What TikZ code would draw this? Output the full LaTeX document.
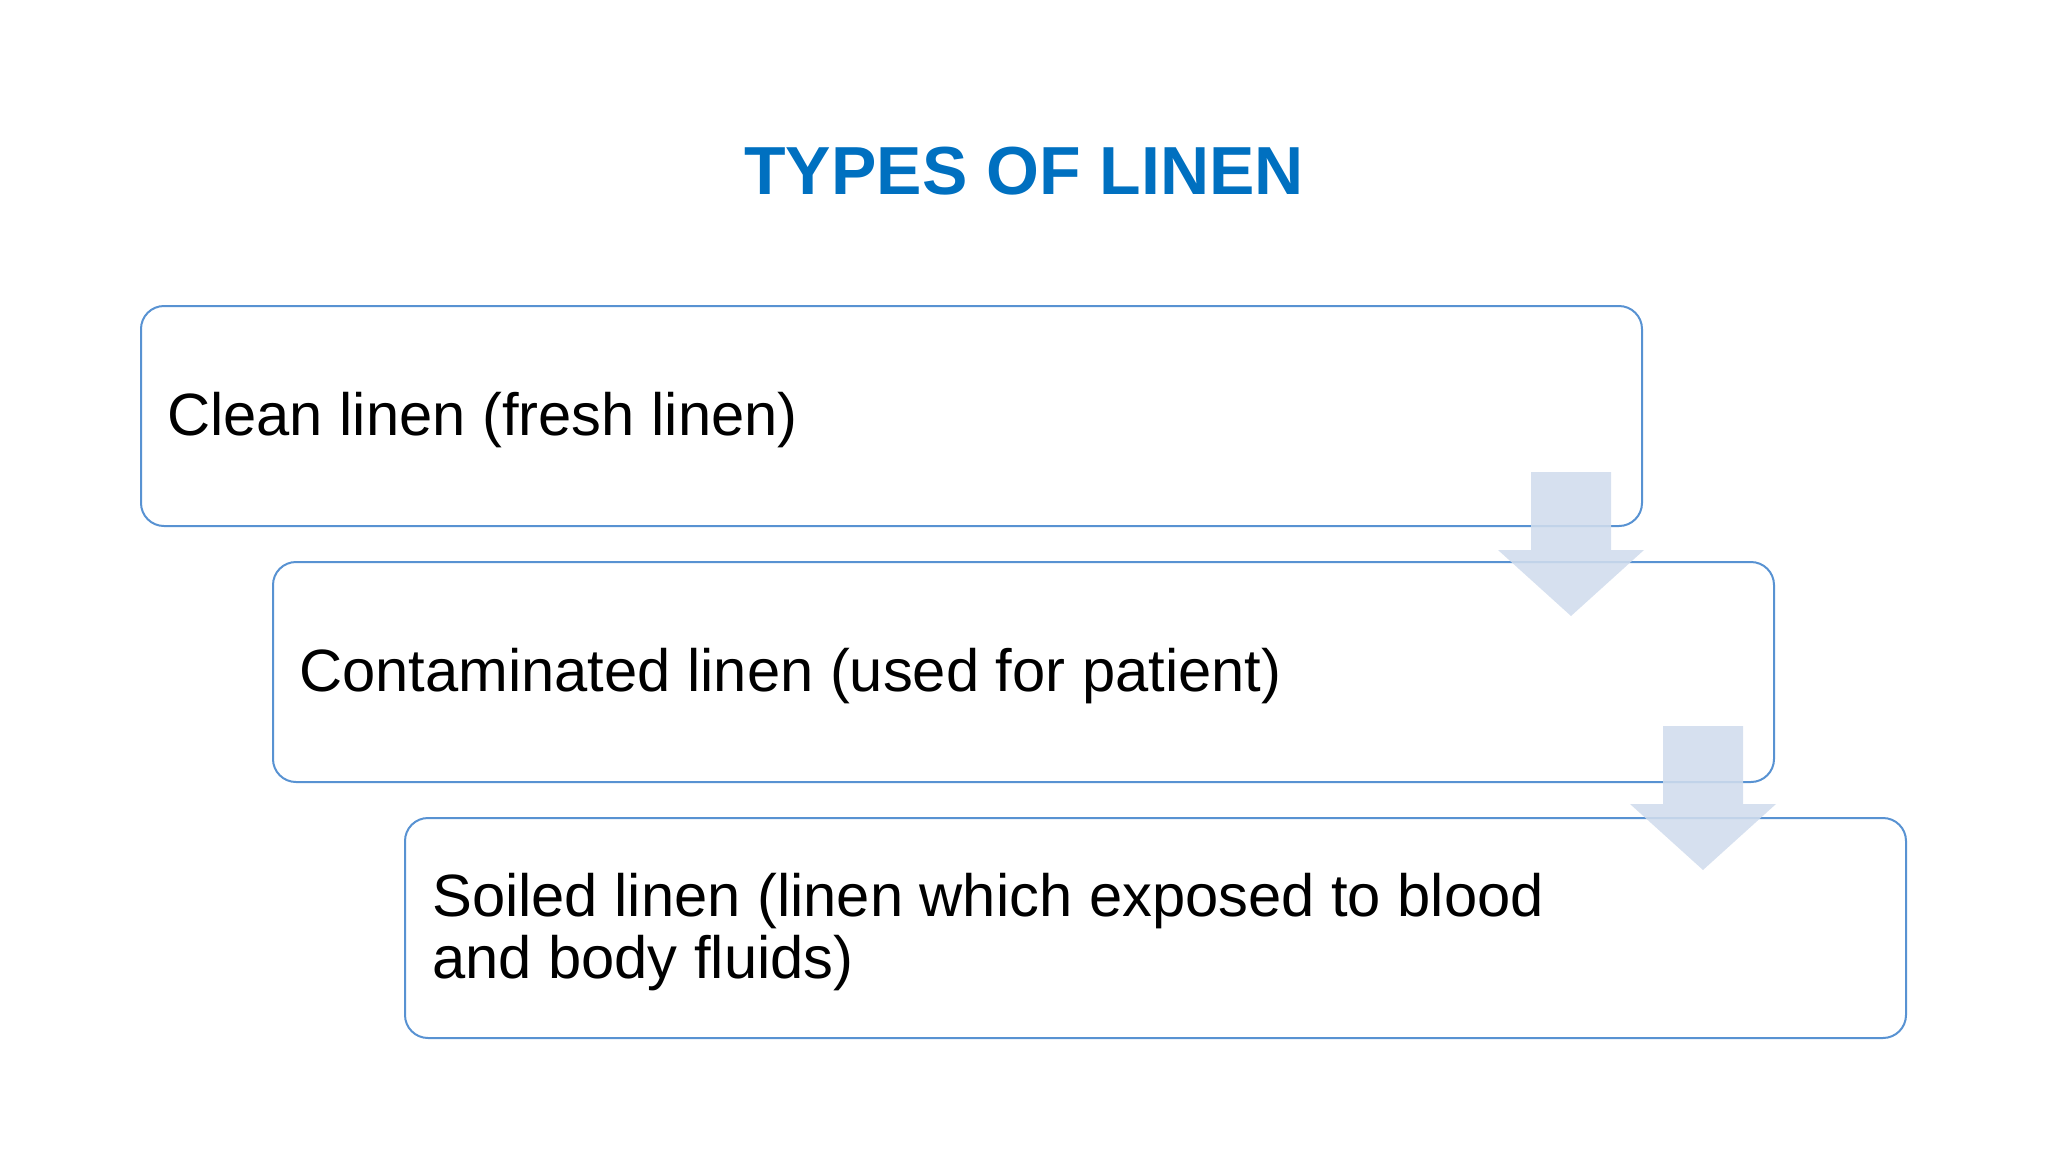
\documentclass[tikz,border=0pt]{standalone}
\usepackage{fontspec}
\setmainfont{Liberation Sans}
\definecolor{titleblue}{RGB}{0,112,192}
\definecolor{boxline}{RGB}{88,146,210}
\definecolor{arrowfill}{RGB}{208,220,237}
\begin{document}
\begin{tikzpicture}[x=1pt,y=-1pt,
  linebox/.style={draw=boxline,line width=2pt,rounded corners=23pt,minimum width=1501pt,minimum height=220pt,inner sep=0pt},
  bodytext/.style={font=\fontsize{59.7}{62}\selectfont,inner sep=0pt,anchor=base west,align=left},
  titletext/.style={font=\fontsize{68}{70}\selectfont\bfseries,text=titleblue,inner sep=0pt,anchor=base},
  downarrow/.pic={\fill[arrowfill,opacity=0.88] (0,0) -- (-73,-66) -- (-40,-66) -- (-40,-144) -- (40,-144) -- (40,-66) -- (73,-66) -- cycle;}
]
\path[use as bounding box] (0,0) rectangle (2048,1152);
\node[titletext] (title) at (1024,194) {TYPES OF LINEN};
\node[linebox] (b1) at (891.5,416) {};
\node[linebox] (b2) at (1023.5,672) {};
\node[linebox] (b3) at (1155.5,928) {};
\node[bodytext] (t1) at (167,435) {Clean linen (fresh linen)};
\node[bodytext] (t2) at (299,691) {Contaminated linen (used for patient)};
\node[bodytext] (t3) at (432,978) {Soiled linen (linen which exposed to blood\\and body fluids)};
\path (1571,616) pic {downarrow};
\path (1703,870) pic {downarrow};
\end{tikzpicture}
\end{document}
